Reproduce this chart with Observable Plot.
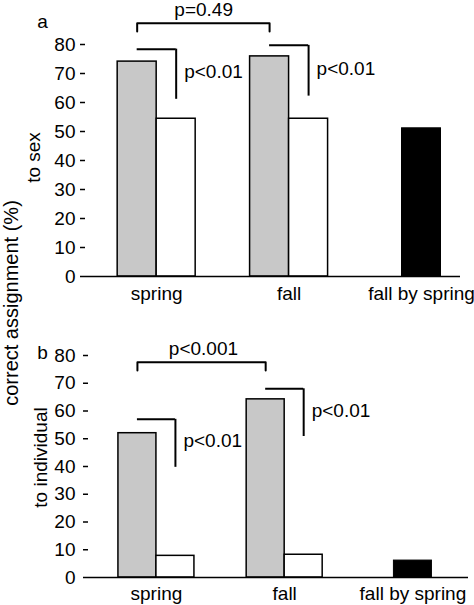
<!DOCTYPE html>
<html><head><meta charset="utf-8">
<script src="https://cdn.jsdelivr.net/npm/d3@7"></script>
<script src="https://cdn.jsdelivr.net/npm/@observablehq/plot@0.6"></script>
<style>
body{margin:0;background:#fff;}
#wrap{position:relative;width:474px;height:605px;overflow:hidden;font-family:"Liberation Sans",Arial,sans-serif;color:#000;}
#pa{position:absolute;left:0;top:0;}
#pb{position:absolute;left:0;top:310px;}
#ylab{position:absolute;left:11px;top:303px;transform:translate(-50%,-50%) rotate(-90deg);white-space:nowrap;font-size:20px;line-height:1;}
</style></head><body>
<div id="wrap"><div id="pa"></div><div id="pb"></div><div id="ylab">correct assignment (%)</div></div>
<script>
// ---- data ----
const categories = ["spring", "fall", "fall by spring"];
const pairCategories = ["spring", "fall"];
const yTicks = [0, 10, 20, 30, 40, 50, 60, 70, 80];

// panel a: correct assignment to sex (%)
const sexGray = [74.1, 75.9];
const sexWhite = [54.4, 54.4];
const sexBlack = [51.1];
const sexPairTop = [78.4, 79.7];
const sexPairBottom = [61.1, 62.2];
const sexPairLabelY = [70.7, 71.7];
const sexPairLabels = ["p<0.01", "p<0.01"];
const sexSeasonLevel = 87.3;
const sexSeasonDrop = 84.5;
const sexSeasonLabel = "p=0.49";

// panel b: correct assignment to individual (%)
const indGray = [52.0, 64.2];
const indWhite = [7.8, 8.2];
const indBlack = [6.1];
const indPairTop = [57.0, 68.0];
const indPairBottom = [39.7, 50.8];
const indPairLabelY = [49.4, 60.2];
const indPairLabels = ["p<0.01", "p<0.01"];
const indSeasonLevel = 77.6;
const indSeasonDrop = 74.6;
const indSeasonLabel = "p<0.001";

const FONT = "Liberation Sans, Arial, sans-serif";

function panel(o) {
  const grayRows = pairCategories.map((c, i) => ({cat: c, v: o.gray[i]}));
  const whiteRows = pairCategories.map((c, i) => ({cat: c, v: o.white[i]}));
  const blackRows = [{cat: categories[2], v: o.black[0]}];
  const pairRows = pairCategories.map((c, i) => ({cat: c, top: o.pairTop[i], bottom: o.pairBottom[i], ly: o.pairLabelY[i], label: o.pairLabels[i]}));
  const seasonRows = [
    {cat: pairCategories[0], v: o.seasonDrop},
    {cat: pairCategories[0], v: o.seasonLevel},
    {cat: pairCategories[1], v: o.seasonLevel},
    {cat: pairCategories[1], v: o.seasonDrop}
  ];
  const q = o.q;
  return Plot.plot({
    width: 474,
    height: o.height,
    marginTop: o.marginTop,
    marginBottom: o.marginBottom,
    marginLeft: o.marginLeft,
    marginRight: o.marginRight,
    style: {fontFamily: FONT, fontSize: "19px", color: "black", background: "white", overflow: "visible"},
    x: {domain: categories, paddingInner: o.pi, paddingOuter: o.po, align: o.align, round: false},
    y: {domain: [0, 80]},
    marks: [
      Plot.barY(grayRows, {x: "cat", y: "v", fill: "#c8c8c8", stroke: "black", strokeWidth: 1.5, insetRight: 2 * q}),
      Plot.barY(whiteRows, {x: "cat", y: "v", fill: "white", stroke: "black", strokeWidth: 1.5, insetLeft: 2 * q}),
      Plot.barY(blackRows, {x: "cat", y: "v", fill: "black", stroke: "black", strokeWidth: 1, insetLeft: q, insetRight: q}),
      Plot.ruleY([0], {stroke: "black", strokeWidth: 1.5}),
      Plot.axisY({ticks: yTicks, tickSize: 5, tickPadding: o.yPad, line: true, strokeWidth: 1.5, fontSize: 19, label: null, tickFormat: d => String(d)}),
      Plot.axisX({tickSize: 0, tickPadding: o.xPad, fontSize: 19, label: null}),
      Plot.tickY(pairRows, {x: "cat", y: "top", insetLeft: q, insetRight: q, stroke: "black", strokeWidth: 2}),
      Plot.ruleX(pairRows, {x: "cat", y1: "bottom", y2: "top", dx: q, stroke: "black", strokeWidth: 2}),
      Plot.text(pairRows, {x: "cat", y: "ly", text: "label", dx: q + 8, textAnchor: "start", fontSize: 19}),
      Plot.line(seasonRows, {x: "cat", y: "v", dx: -q, stroke: "black", strokeWidth: 2}),
      Plot.text([{cat: pairCategories[0], v: o.seasonLevel, t: o.seasonLabel}], {x: "cat", y: "v", text: "t", dx: o.seasonDx, dy: -13, fontSize: 19}),
      Plot.text([o.sideLabel], {frameAnchor: "left", rotate: -90, textAnchor: "middle", lineAnchor: "middle", dx: o.sideDx, dy: o.sideDy, fontSize: 19}),
      Plot.text([o.letter], {frameAnchor: "top-left", textAnchor: "middle", lineAnchor: "middle", dx: o.letterDx, dy: o.letterDy, fontSize: 19})
    ]
  });
}

document.getElementById("pa").append(panel({
  gray: sexGray, white: sexWhite, black: sexBlack,
  pairTop: sexPairTop, pairBottom: sexPairBottom, pairLabelY: sexPairLabelY, pairLabels: sexPairLabels,
  seasonLevel: sexSeasonLevel, seasonDrop: sexSeasonDrop, seasonLabel: sexSeasonLabel,
  sideLabel: "to sex", letter: "a",
  height: 310, marginTop: 44, marginBottom: 34, marginLeft: 85, marginRight: 14,
  pi: 0.411, po: 0.1215, align: 1, q: 19.5,
  yPad: 5, xPad: 10, seasonDx: 47,
  sideDx: -52, sideDy: -3, letterDx: -43, letterDy: -23
}));

document.getElementById("pb").append(panel({
  gray: indGray, white: indWhite, black: indBlack,
  pairTop: indPairTop, pairBottom: indPairBottom, pairLabelY: indPairLabelY, pairLabels: indPairLabels,
  seasonLevel: indSeasonLevel, seasonDrop: indSeasonDrop, seasonLabel: indSeasonLabel,
  sideLabel: "to individual", letter: "b",
  height: 295, marginTop: 45, marginBottom: 28, marginLeft: 88, marginRight: 6,
  pi: 0.4074, po: 0.1852, align: 0.63, q: 19,
  yPad: 8, xPad: 9, seasonDx: 47,
  sideDx: -48, sideDy: -9, letterDx: -46, letterDy: -3
}));
</script>
</body></html>
